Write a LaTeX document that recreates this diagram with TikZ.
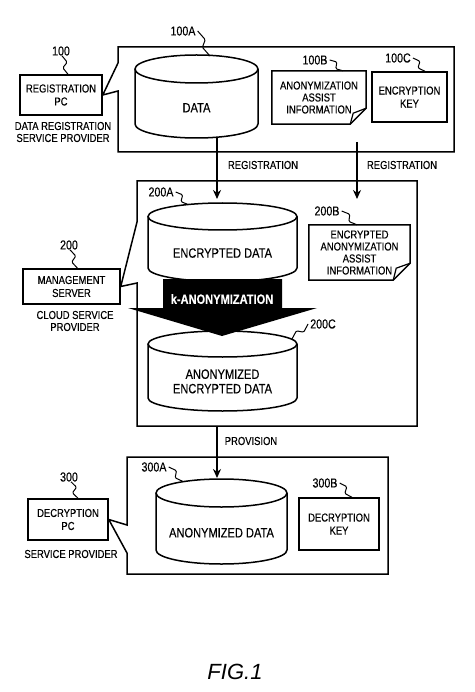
\documentclass[tikz,border=0pt]{standalone}
\usepackage{fontspec}
\setmainfont[FakeStretch=0.82,FakeBold=0.3]{Liberation Sans}
\newfontfamily\figfont{Liberation Sans}
\usetikzlibrary{calc,arrows.meta}
\tikzset{
  ln/.style={line width=1.5pt},
  txt/.style={font=\fontsize{11.5}{12}\selectfont, align=center, inner sep=0pt},
  lbl/.style={font=\fontsize{13}{14}\selectfont, inner sep=0pt},
  cyltxt/.style={font=\fontsize{13.5}{14.5}\selectfont, align=center, inner sep=0pt},
  plainbox/.style={draw, line width=1.5pt, inner sep=0pt, align=center, font=\fontsize{11.5}{13}\selectfont},
  squig/.style={line width=1pt, rounded corners=1.2pt},
  arr/.style={line width=1.5pt, -{Stealth[length=9pt,width=8pt]}},
}
\newcommand\mycyl[7]{%
  \draw[ln, fill=white] (#2-#5,#3) -- (#2-#5,#4) arc[start angle=180, end angle=0, x radius=#5, y radius=#6] -- (#2+#5,#3);
  \draw[ln] (#2,#3) ellipse[x radius=#5, y radius=#6];
  \node[cyltxt, minimum width={2*#5pt}, minimum height={(#4-#3)*1pt}] (#1) at (#2,{(#3+#4)/2+0.8*#6}) {#7};
}
\newcommand\squigline[2]{\draw[squig] (#1) -- ($(#1)!0.4!(#2)!3pt!90:(#2)$) -- ($(#1)!0.6!(#2)!3pt!-90:(#2)$) -- (#2);}
\begin{document}
\begin{tikzpicture}[x=1pt,y=-1pt]
\useasboundingbox (0,0) rectangle (474,692);

% side boxes
\node[plainbox, minimum width=82pt, minimum height=40pt] (regpc) at (61,95) {REGISTRATION\\PC};
\node[plainbox, minimum width=97pt, minimum height=35pt] (mgmt) at (71.5,286.5) {MANAGEMENT\\SERVER};
\node[plainbox, minimum width=80pt, minimum height=41pt] (decpc) at (68,519.5) {DECRYPTION\\PC};

% provider boxes with callouts
\draw[ln] (118,47) -- (454,47) -- (454,152) -- (118,152) -- (118,91) -- (regpc.east) -- (118,63) -- cycle;
\draw[ln] (137,181) -- (417,181) -- (417,426) -- (137,426) -- (137,283) -- (mgmt.east) -- (137,222) -- cycle;
\draw[ln] (127,457) -- (388,457) -- (388,574) -- (127,574) -- (127,553) -- (decpc.east) -- (127,525) -- cycle;

\node[txt] (prov1) at (63,132) {DATA REGISTRATION\\SERVICE PROVIDER};
\node[txt] (prov2) at (75,321) {CLOUD SERVICE\\PROVIDER};
\node[txt] (prov3) at (71,554) {SERVICE PROVIDER};

% cylinders
\mycyl{data}{196.5}{69}{124}{61.5}{14}{DATA}
\mycyl{enc}{222.5}{216.5}{268}{74.5}{13.5}{ENCRYPTED DATA}
\mycyl{anon}{222.5}{344}{398}{74.5}{13}{ANONYMIZED\\ENCRYPTED DATA}
\mycyl{anondata}{221.5}{493}{550}{65.5}{14}{ANONYMIZED DATA}

% documents
\node[txt, minimum width=94pt, minimum height=53pt] (assist) at (319,97.5) {ANONYMIZATION\\ASSIST\\INFORMATION};
\draw[ln] (assist.north west) -- (assist.north east) -- ($(assist.south east)+(0,-16)$) -- ($(assist.south east)+(-16,0)$) -- (assist.south west) -- cycle;
\draw[line width=1.2pt] ($(assist.south east)+(0,-16)$) -- ($(assist.south east)+(-13,-11)$) -- ($(assist.south east)+(-16,0)$);

\node[txt, minimum width=101pt, minimum height=55pt] (encassist) at (359.5,252.5) {ENCRYPTED\\ANONYMIZATION\\ASSIST\\INFORMATION};
\draw[ln] (encassist.north west) -- (encassist.north east) -- ($(encassist.south east)+(0,-17)$) -- ($(encassist.south east)+(-17,0)$) -- (encassist.south west) -- cycle;
\draw[line width=1.2pt] ($(encassist.south east)+(0,-17)$) -- ($(encassist.south east)+(-14,-12)$) -- ($(encassist.south east)+(-17,0)$);

% keys
\node[plainbox, minimum width=75pt, minimum height=50pt] (key) at (409.5,97) {ENCRYPTION\\KEY};
\node[plainbox, minimum width=80pt, minimum height=52pt] (deckey) at (339,524) {DECRYPTION\\KEY};

% k-anonymization arrow
\fill[black] (163,279) -- (282,279) -- (282,308) -- (317,308) -- (222,336) -- (128,308) -- (163,308) -- cycle;
\node[font=\bfseries\fontsize{13.5}{14}\selectfont, text=white, inner sep=0pt] (kanon) at (222,299) {k-ANONYMIZATION};

% arrows
\coordinate (r1s) at (217,137.5);
\coordinate (r1e) at (217,199);
\coordinate (r2s) at (357,142);
\coordinate (r2e) at (357,199);
\coordinate (p1s) at (217,426);
\coordinate (p1e) at (217,478);
\draw[arr] (r1s) -- (r1e);
\draw[arr] (r2s) -- (r2e);
\draw[arr] (p1s) -- (p1e);
\node[txt] (reg1) at (263,165) {REGISTRATION};
\node[txt] (reg2) at (402,165) {REGISTRATION};
\node[txt] (prov) at (251,441) {PROVISION};

% reference labels
\node[lbl] (l100) at (61,51) {100};
\node[lbl] (l100a) at (183,31) {100A};
\node[lbl] (l100b) at (315,60) {100B};
\node[lbl] (l100c) at (398,58) {100C};
\node[lbl] (l200) at (69,245) {200};
\node[lbl] (l200a) at (161,192) {200A};
\node[lbl] (l200b) at (327,211) {200B};
\node[lbl] (l200c) at (323,324) {200C};
\node[lbl] (l300) at (69,477) {300};
\node[lbl] (l300a) at (154,467) {300A};
\node[lbl] (l300b) at (325,483) {300B};

\coordinate (t100a) at (210,56);
\coordinate (t200a) at (188,204.5);
\coordinate (t200c) at (292,339);
\coordinate (t300a) at (183,481.5);
\squigline{[xshift=1pt]l100.south}{[xshift=7pt]regpc.north}
\squigline{[xshift=2pt]l100a.east}{t100a}
\squigline{[xshift=2pt]l100b.east}{[xshift=24pt]assist.north}
\squigline{[xshift=2pt]l100c.east}{[xshift=15.5pt]key.north}
\squigline{[xshift=1pt]l200.south}{[xshift=6pt]mgmt.north}
\squigline{[xshift=2pt]l200a.east}{t200a}
\squigline{[xshift=2pt]l200b.east}{[xshift=-2.5pt]encassist.north}
\squigline{[xshift=-2pt]l200c.west}{t200c}
\squigline{[xshift=2pt]l300.south}{[xshift=10pt]decpc.north}
\squigline{[xshift=2pt]l300a.east}{t300a}
\squigline{[xshift=2pt]l300b.east}{[xshift=13pt]deckey.north}

\node[font={\figfont\itshape\fontsize{22}{24}\selectfont}, inner sep=0pt] (fig) at (235,672) {FIG.1};
\end{tikzpicture}
\end{document}
